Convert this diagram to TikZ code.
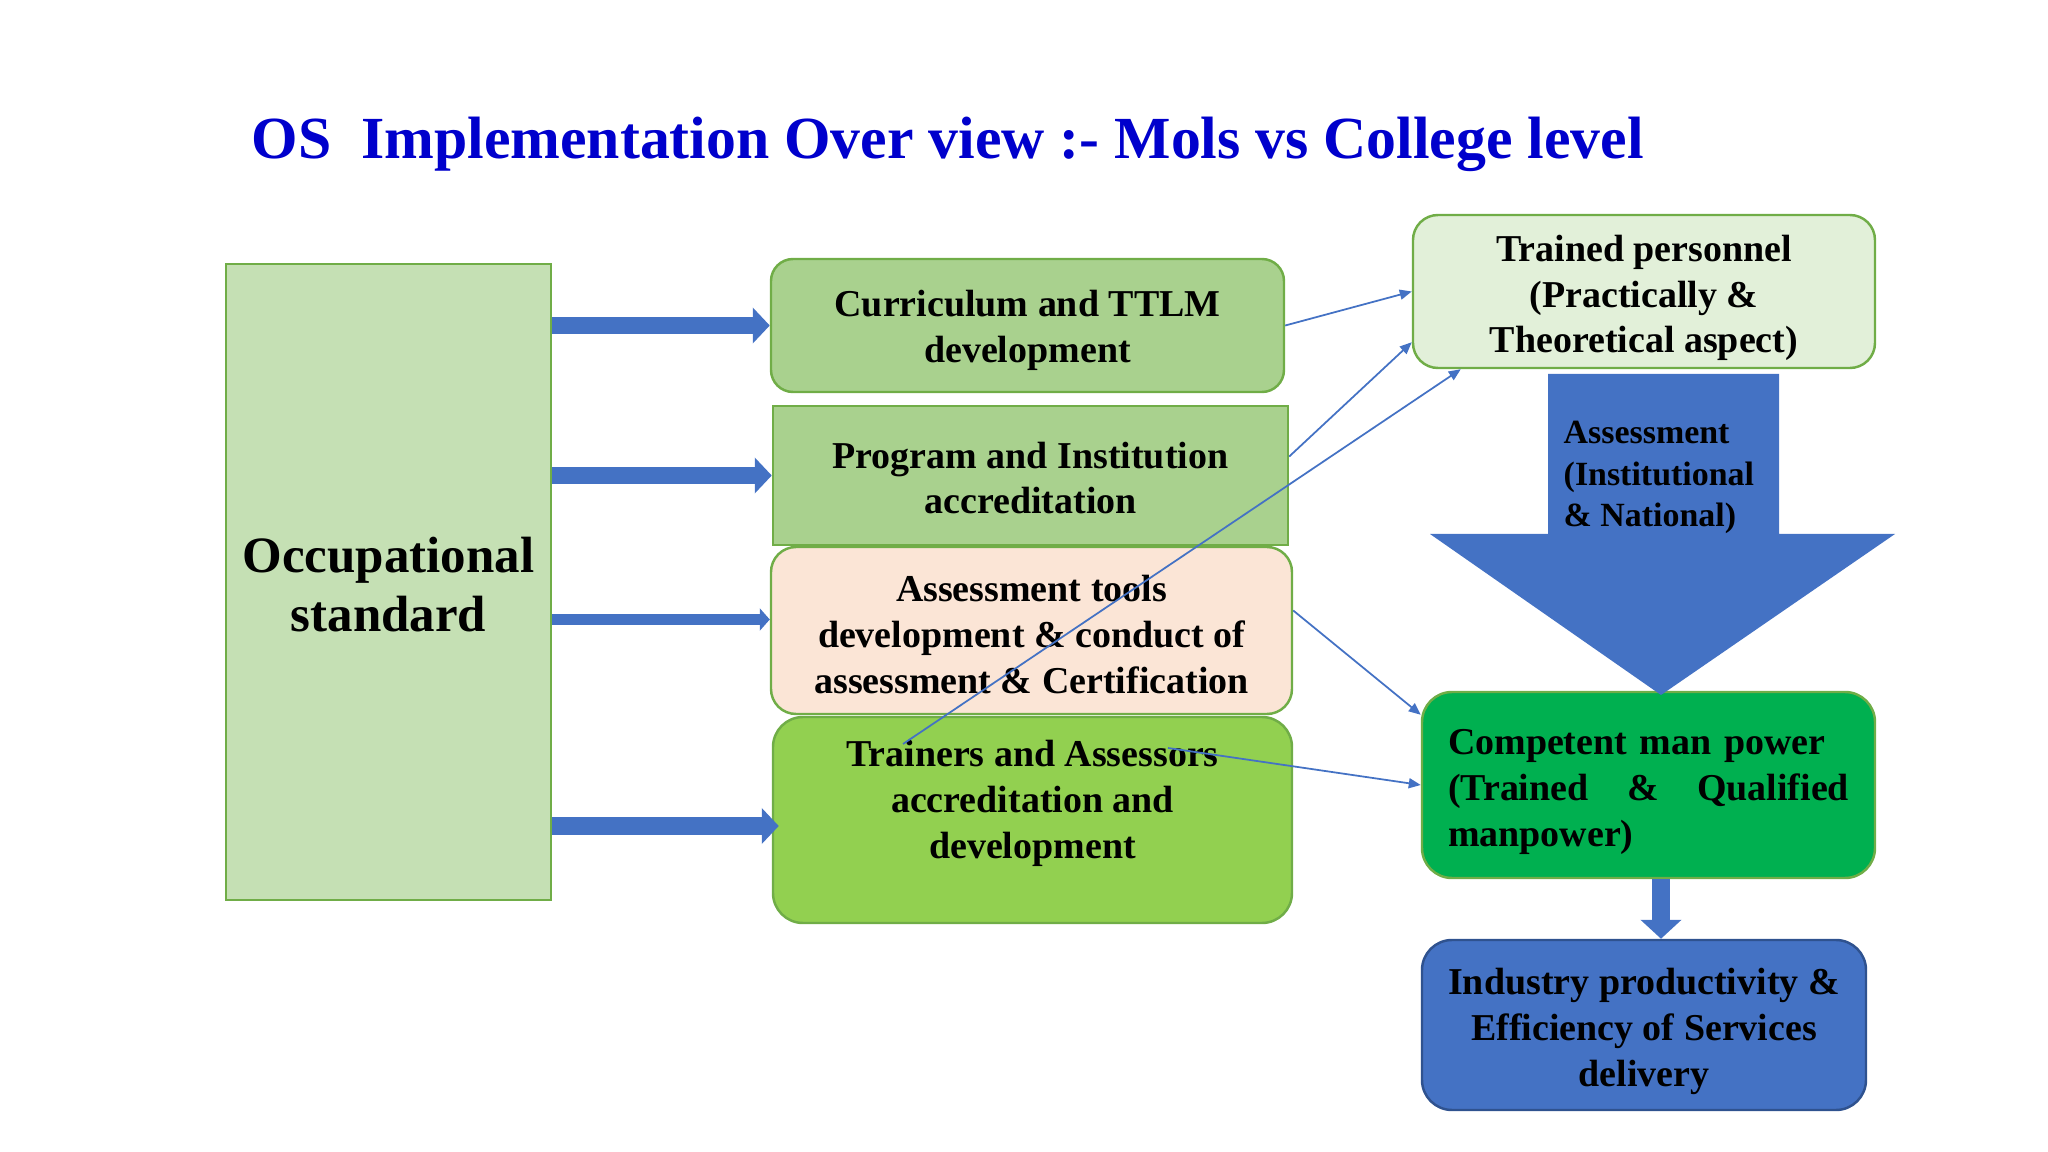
\documentclass[tikz,border=0pt]{standalone}
\usepackage{fontspec}
\setmainfont{Liberation Serif}
\usetikzlibrary{positioning,arrows.meta}
\definecolor{occfill}{HTML}{C5E0B4}
\definecolor{midgreen}{HTML}{A9D18E}
\definecolor{peach}{HTML}{FBE5D6}
\definecolor{limegreen}{HTML}{92D050}
\definecolor{palegreen}{HTML}{E2F0D9}
\definecolor{brightgreen}{HTML}{00B050}
\definecolor{edgegreen}{HTML}{70AD47}
\definecolor{arrowblue}{HTML}{4472C4}
\definecolor{darkblue}{HTML}{2F528F}
\definecolor{titleblue}{HTML}{0000CC}

\begin{document}
\begin{tikzpicture}[
    box/.style={draw=edgegreen, line width=0.7pt, align=center, inner sep=0pt,
      font=\bfseries\fontsize{10.8}{13}\selectfont},
    fat/.style={draw=arrowblue, line width=1.75mm, -{Triangle[length=1.7mm,width=3.5mm]}},
    link/.style={draw=arrowblue, line width=0.5pt, -{Triangle[length=1.2mm,width=1mm]}}
  ]
    \useasboundingbox (0,0) rectangle (20.48,-11.52);
    \node[anchor=base west, inner sep=0, text=titleblue, font=\bfseries\fontsize{17}{20}\selectfont] (title) at (2.51,-1.585) {OS\ \ Implementation Over view :- Mols vs College level};

    \node[box, fill=occfill, minimum width=3.25cm, minimum height=6.36cm, text height=28.2pt, font=\bfseries\fontsize{14.5}{16.7}\selectfont] (occ) at (3.885,-5.82) {Occupational\\standard};
    \node[box, fill=midgreen, rounded corners=0.22cm, minimum width=5.13cm, minimum height=1.33cm, text height=23.3pt] (curr) at (10.275,-3.255) {Curriculum and TTLM\\development};
    \node[box, fill=midgreen, minimum width=5.15cm, minimum height=1.39cm, text height=21.9pt] (prog) at (10.305,-4.755) {Program and Institution\\accreditation};
    \node[box, fill=peach, rounded corners=0.25cm, minimum width=5.21cm, minimum height=1.67cm, text height=35.7pt] (tools) at (10.315,-6.305) {Assessment tools\\development \& conduct of\\assessment \& Certification};
    \node[box, fill=limegreen, rounded corners=0.3cm, minimum width=5.19cm, minimum height=2.06cm] (trainers) at (10.325,-8.2) {};
    \node[below=0.24cm of trainers.north, align=center, inner sep=0, font=\bfseries\fontsize{10.8}{13}\selectfont] (trainerstxt) {Trainers and Assessors\\accreditation and\\development};

    \node[box, fill=palegreen, rounded corners=0.25cm, minimum width=4.62cm, minimum height=1.53cm, text height=37.2pt] (trained) at (16.44,-2.915) {Trained personnel\\(Practically \&\\Theoretical aspect)};
    \node[box, fill=brightgreen, rounded corners=0.3cm, align=left, text width=4.01cm, inner xsep=0.26cm, minimum height=1.86cm, text height=11.2pt] (comp) at (16.485,-7.85) {Competent man power\\\leavevmode\hbox to 4.01cm{(Trained\hfill\&\hfill Qualified}\\manpower)};
    \node[box, draw=darkblue, fill=arrowblue, rounded corners=0.3cm, minimum width=4.44cm, minimum height=1.70cm, text height=37.2pt] (industry) at (16.44,-10.25) {Industry productivity \&\\Efficiency of Services\\delivery};

    \fill[arrowblue] (15.48,-3.74) -- (17.79,-3.74) -- (17.79,-5.34) -- (18.95,-5.34) -- (16.61,-6.95) -- (14.30,-5.34) -- (15.48,-5.34) -- cycle;
    \node[anchor=west, align=left, inner sep=0, font=\bfseries\fontsize{9.65}{11.7}\selectfont] (assess) at (15.63,-4.775) {Assessment\\(Institutional\\\& National)};

    \draw[fat] (occ.east |- curr.west) -- (curr.west);
    \draw[fat] (occ.east |- prog.west) -- (prog.west);
    \draw[fat, line width=1.1mm, -{Triangle[length=1mm,width=2.2mm]}] ([yshift=0.11cm]tools.west -| occ.east) -- ([yshift=0.11cm]tools.west);
    \draw[fat] ([yshift=-0.06cm]trainers.west -| occ.east) -- ([xshift=0.07cm,yshift=-0.06cm]trainers.west);

    \coordinate (mid) at (16.61,-8);
    \draw[fat, line width=1.86mm, -{Triangle[length=1.9mm,width=4mm]}] (mid |- comp.south) -- (mid |- industry.north);

    \coordinate (trA) at (9.03,-7.44);
    \coordinate (trB) at (11.68,-7.48);
    \draw[link] (curr.east) -- (trained.west);
    \draw[link] ([yshift=0.19cm]prog.east) -- ([yshift=0.27cm]trained.south west);
    \draw[link] (trA) -- ([xshift=0.49cm]trained.south west);
    \draw[link] ([yshift=0.2cm]tools.east) -- ([yshift=-0.24cm]comp.north west);
    \draw[link] (trB) -- (comp.west);
\end{tikzpicture}
\end{document}
